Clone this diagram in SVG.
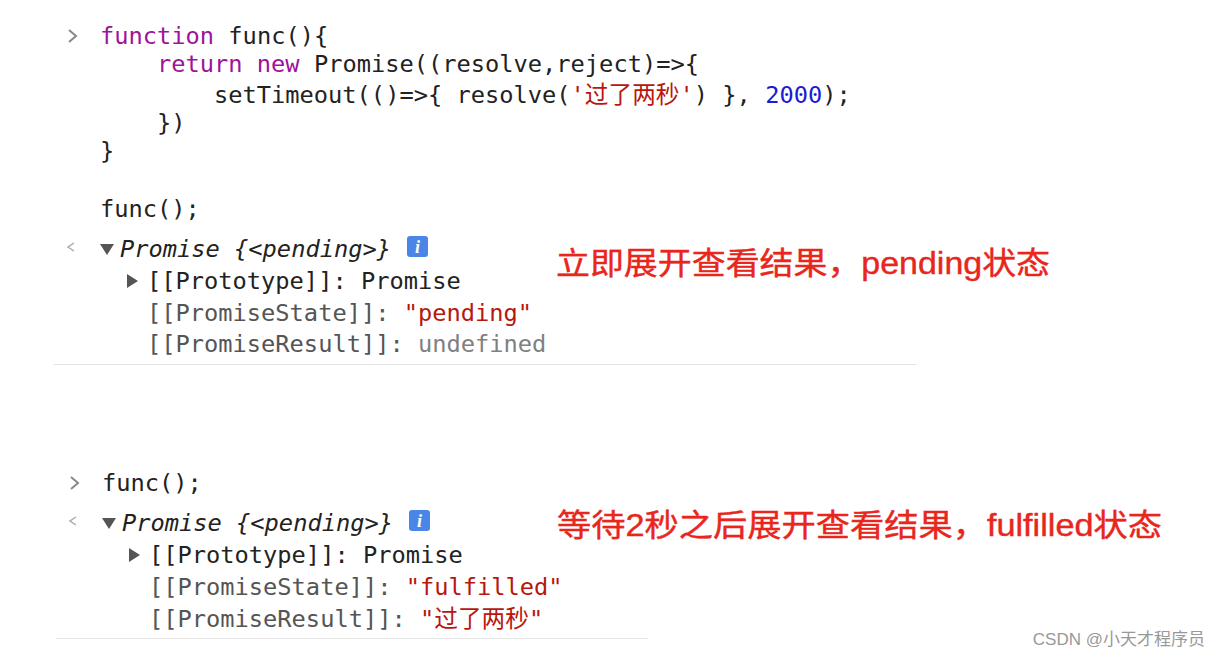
<svg xmlns="http://www.w3.org/2000/svg" width="1220" height="658" viewBox="0 0 1220 658">
<style>
.m{font-family:"DejaVu Sans Mono","Liberation Mono",monospace;font-size:23.7px;fill:#222}
.k{fill:#a0129c}.s{fill:#b8160e}.n{fill:#1b1bd6}.g{fill:#555}.u{fill:#808080}.i{font-style:italic}
.r{font-family:"Liberation Sans","Noto Sans CJK SC",sans-serif;font-size:31px;fill:#e8261c;stroke:#e8261c;stroke-width:0.4}
.c{font-family:"Noto Sans CJK SC",sans-serif}
.ar{fill:#555}
</style>
<rect width="1220" height="658" fill="#fff"/>
<g id="code1">
<path d="M69 30l7 6-7 6" fill="none" stroke="#888" stroke-width="2"/>
<text class="m" x="100" y="44"><tspan class="k">function</tspan> func(){</text>
<text class="m" x="157" y="72"><tspan class="k">return</tspan> <tspan class="k">new</tspan> Promise((resolve,reject)=&gt;{</text>
<text class="m" x="214" y="103">setTimeout(()=&gt;{ resolve(<tspan class="s">'<tspan class="c">过了两秒</tspan>'</tspan>) }, <tspan class="n">2000</tspan>);</text>
<text class="m" x="157" y="131">})</text>
<text class="m" x="100" y="159">}</text>
<text class="m" x="100" y="217">func();</text>
</g>
<g id="out1">
<path d="M74 243l-6 4 6 4" fill="none" stroke="#aaa" stroke-width="1.5"/>
<path class="ar" d="M100 244h14l-7 11z"/>
<text class="m i" x="120" y="257">Promise {&lt;pending&gt;}</text>
<rect x="407" y="236" width="21" height="21" rx="3" fill="#4a86e8"/>
<text x="417.5" y="253" text-anchor="middle" font-family="Liberation Serif,serif" font-style="italic" font-weight="bold" font-size="18" fill="#fff">i</text>
<path class="ar" d="M127 274v14l11-7z"/>
<text class="m" x="147" y="289">[[Prototype]]: Promise</text>
<text class="m" x="147" y="321"><tspan class="g">[[PromiseState]]:</tspan> <tspan class="s">"pending"</tspan></text>
<text class="m" x="147" y="352"><tspan class="g">[[PromiseResult]]:</tspan> <tspan class="u">undefined</tspan></text>
<line x1="54" y1="364.5" x2="916" y2="364.5" stroke="#e3e3e3"/>
<text class="r" x="556" y="274" textLength="494" lengthAdjust="spacingAndGlyphs">立即展开查看结果，pending状态</text>
</g>
<g id="code2">
<path d="M71 477l7 6-7 6" fill="none" stroke="#888" stroke-width="2"/>
<text class="m" x="102" y="491">func();</text>
</g>
<g id="out2">
<path d="M76 517l-6 4 6 4" fill="none" stroke="#aaa" stroke-width="1.5"/>
<path class="ar" d="M102 518h14l-7 11z"/>
<text class="m i" x="122" y="531">Promise {&lt;pending&gt;}</text>
<rect x="409" y="510" width="21" height="21" rx="3" fill="#4a86e8"/>
<text x="419.5" y="527" text-anchor="middle" font-family="Liberation Serif,serif" font-style="italic" font-weight="bold" font-size="18" fill="#fff">i</text>
<path class="ar" d="M129 548v14l11-7z"/>
<text class="m" x="149" y="563">[[Prototype]]: Promise</text>
<text class="m" x="149" y="595"><tspan class="g">[[PromiseState]]:</tspan> <tspan class="s">"fulfilled"</tspan></text>
<text class="m" x="149" y="627"><tspan class="g">[[PromiseResult]]:</tspan> <tspan class="s">"<tspan class="c">过了两秒</tspan>"</tspan></text>
<line x1="56" y1="638.5" x2="648" y2="638.5" stroke="#e3e3e3"/>
<text class="r" x="557" y="536" textLength="605" lengthAdjust="spacingAndGlyphs">等待2秒之后展开查看结果，fulfilled状态</text>
</g>
<text x="1205" y="645" text-anchor="end" font-family="Liberation Sans,Noto Sans CJK SC,sans-serif" font-size="17" fill="#999">CSDN @小天才程序员</text>
</svg>
